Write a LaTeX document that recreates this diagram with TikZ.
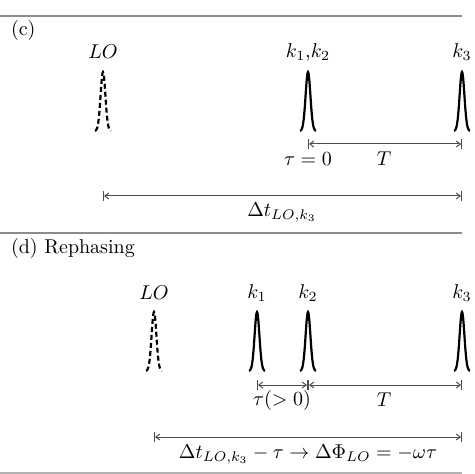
\documentclass[tikz,border=0pt]{standalone}
\usetikzlibrary{arrows.meta}

\tikzset{
  pulse/.style={black,line width=1.1pt},
  lopulse/.style={pulse,dash pattern=on 2.5pt off 1.5pt},
  span/.style={black!70,line width=0.5pt,|<->|,>={Straight Barb[length=2pt,width=3pt]}},
  rule/.style={black!45,line width=0.7pt},
}
% gaussian pulse: #2 = x, #3 = base y (px)
\newcommand{\pulseat}[3][]{%
  \draw[pulse,#1] plot[domain=-8:8,samples=41,smooth]
    ({#2+\x},{#3-59*exp(-(\x*\x)/(2*2.4*2.4))});
}

\begin{document}
\begin{tikzpicture}[x=0.5pt,y=-0.5pt]
\useasboundingbox (0,0) rectangle (474,474);

% (c)
\draw[rule] (0,16) -- (462,16);
\node[anchor=west] (c-title) at (4,31) {(c)};
\node (c-lbl-lo) at (103,52) {$LO$};
\node (c-lbl-k12) at (308,52) {$k_1$,$k_2$};
\node (c-lbl-k3) at (462,52) {$k_3$};
\pulseat[lopulse]{103}{131}
\pulseat{308}{131}
\pulseat{462}{131}
\coordinate (c-t-a) at (308,144);
\coordinate (c-t-b) at (462,144);
\coordinate (c-d-a) at (103,196);
\coordinate (c-d-b) at (462,196);
\draw[span] (c-t-a) -- (c-t-b);
\draw[span] (c-d-a) -- (c-d-b);
\node (c-tau) at (308,159) {$\tau=0$};
\node (c-T) at (384,159) {$T$};
\node (c-dt) at (282,213) {$\Delta t_{LO,k_3}$};

% (d)
\draw[rule] (0,233) -- (462,233);
\node[anchor=west] (d-title) at (4,249) {(d) Rephasing};
\node (d-lbl-lo) at (154,293) {$LO$};
\node (d-lbl-k1) at (257,293) {$k_1$};
\node (d-lbl-k2) at (308,293) {$k_2$};
\node (d-lbl-k3) at (462,293) {$k_3$};
\pulseat[lopulse]{154}{371}
\pulseat{257}{371}
\pulseat{308}{371}
\pulseat{462}{371}
\coordinate (d-t-a) at (257,385);
\coordinate (d-t-b) at (308,385);
\coordinate (d-t-c) at (462,385);
\coordinate (d-d-a) at (154,437);
\coordinate (d-d-b) at (462,437);
\draw[span] (d-t-a) -- (d-t-b);
\draw[span] (d-t-b) -- (d-t-c);
\draw[span] (d-d-a) -- (d-d-b);
\node (d-tau) at (282,400) {$\tau(>0)$};
\node (d-T) at (384,400) {$T$};
\node (d-dt) at (308,455) {$\Delta t_{LO,k_3}-\tau\rightarrow\Delta\Phi_{LO}=-\omega\tau$};
\draw[black!30,line width=1.5pt] (0,473) -- (462,473);
\end{tikzpicture}
\end{document}
